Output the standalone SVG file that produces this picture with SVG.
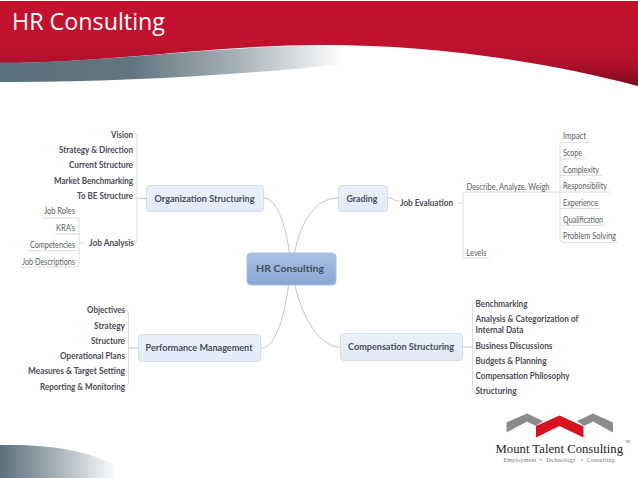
<svg xmlns="http://www.w3.org/2000/svg" width="638" height="478" viewBox="0 0 638 478">
<style>
.t{font-family:Lato,"Liberation Sans",sans-serif;font-size:9.600px;font-weight:700;fill:#4a4d55}
.l{font-family:Lato,"Liberation Sans",sans-serif;font-size:9.600px;fill:#5a5d62}
.n{font-family:Lato,"Liberation Sans",sans-serif;font-size:10.200px;font-weight:700;fill:#474d5c;text-anchor:middle}
.e{text-anchor:end}
.box{fill:url(#nodeFill);stroke:#d5dce6;stroke-width:1}
.c{fill:none;stroke:#c4c4c0;stroke-width:1}
.b{fill:none;stroke:#dcdcdc;stroke-width:1}
</style>
<defs>
<linearGradient id="red" x1="0" y1="0" x2="0" y2="1"><stop offset="0" stop-color="#c5122f"/><stop offset=".5" stop-color="#c0122f"/><stop offset=".75" stop-color="#ae112b"/><stop offset="1" stop-color="#7d0a1c"/></linearGradient>
<linearGradient id="gray" x1="0" y1="0" x2="1" y2="0"><stop offset="0" stop-color="#5c717e"/><stop offset=".38" stop-color="#62757f"/><stop offset=".7" stop-color="#a9b4ba"/><stop offset="1" stop-color="#ffffff"/></linearGradient>
<linearGradient id="gray2" x1="0" y1="0" x2="1" y2="0"><stop offset="0" stop-color="#5c717e"/><stop offset=".5" stop-color="#a9b4ba"/><stop offset="1" stop-color="#ffffff"/></linearGradient>
<linearGradient id="nodeFill" x1="0" y1="0" x2="0" y2="1"><stop offset="0" stop-color="#eaf1fb"/><stop offset="1" stop-color="#e2eaf7"/></linearGradient>
<linearGradient id="root" x1="0" y1="0" x2="0" y2="1"><stop offset="0" stop-color="#a9c1e2"/><stop offset="1" stop-color="#86a6d3"/></linearGradient>
</defs>
<rect width="638" height="478" fill="#fff"/>
<g id="banner">
<path d="M0 1H638V86C540 60 430 45 325 45C210 45 110 63 0 63Z" fill="url(#red)"/>
<path d="M0 62.500C110 63 210 45 345 45.500V64C230 76 110 82.500 0 82Z" fill="url(#gray)"/>
<text x="12" y="30" font-family="'Open Sans','Noto Sans',sans-serif" font-size="23.500" fill="#fff" textLength="153" lengthAdjust="spacingAndGlyphs">HR Consulting</text>
</g>
<path id="corner" d="M0 445C50 444 85 450 118 466V478H0Z" fill="url(#gray2)"/>
<g id="connectors">
<path class="c" d="M264 198C276 198 285 222 289.500 253"/>
<path class="c" d="M338 198C316 198 301 220 294.500 253"/>
<path class="c" d="M261 348C274 348 284 322 288.500 285"/>
<path class="c" d="M340 347C320 347 302 318 295 285"/>
<path class="c" d="M146 198.500H137"/>
<path class="b" d="M133 133Q137 133 137 136V240Q137 243 134 243"/>
<path class="b" d="M79 218V264Q79 267 76 267H20M42 218H79M55 234H79M28 250.700H79M79 243H84"/>
<path class="c" d="M388 198C394 198 394 201 399 201"/>
<path class="b" d="M458 203H463M559 192H466Q463 192 463 195V255Q463 258 466 258H489"/>
<path class="b" d="M560 142.700V239Q560 242.300 563 242.300H618M560 142.700H590M560 159H585M560 175.300H602M560 192H610M560 208.700H600M560 225.300H605"/>
<path class="c" d="M138 348H129"/>
<path class="b" d="M125 310Q128.500 310 128.500 313V383Q128.500 386.500 125 386.500"/>
<path class="c" d="M463 347H472"/>
<path class="b" d="M475 302Q472.500 302 472.500 305V388Q472.500 392 475 392"/>
</g>
<g id="hr-consulting"><rect x="247" y="253" width="89" height="32" rx="4" fill="url(#root)" stroke="#a9c0de"/><text class="n" x="290" y="272" textLength="68" lengthAdjust="spacingAndGlyphs">HR Consulting</text></g>
<g id="organization-structuring"><rect class="box" x="146.500" y="185.500" width="117" height="26" rx="3"/><text class="n" x="204.500" y="201.800" textLength="100" lengthAdjust="spacingAndGlyphs">Organization Structuring</text></g>
<g id="grading"><rect class="box" x="338.500" y="185.500" width="49" height="26" rx="3"/><text class="n" x="362" y="201.800" textLength="31" lengthAdjust="spacingAndGlyphs">Grading</text></g>
<g id="performance-management"><rect class="box" x="138.500" y="334.500" width="122" height="27" rx="3"/><text class="n" x="199" y="351.300" textLength="107" lengthAdjust="spacingAndGlyphs">Performance Management</text></g>
<g id="compensation-structuring"><rect class="box" x="340.500" y="333.500" width="122" height="27" rx="3"/><text class="n" x="401" y="350.300" textLength="106" lengthAdjust="spacingAndGlyphs">Compensation Structuring</text></g>
<g id="org-topics">
<text class="t e" x="133" y="137.500" textLength="22" lengthAdjust="spacingAndGlyphs">Vision</text>
<text class="t e" x="133" y="153" textLength="74" lengthAdjust="spacingAndGlyphs">Strategy &amp; Direction</text>
<text class="t e" x="133" y="168" textLength="64" lengthAdjust="spacingAndGlyphs">Current Structure</text>
<text class="t e" x="133" y="183.500" textLength="79" lengthAdjust="spacingAndGlyphs">Market Benchmarking</text>
<text class="t e" x="133" y="198.500" textLength="56" lengthAdjust="spacingAndGlyphs">To BE Structure</text>
<text class="t e" x="134" y="246" textLength="45" lengthAdjust="spacingAndGlyphs">Job Analysis</text>
<text class="l e" x="75" y="214" textLength="31" lengthAdjust="spacingAndGlyphs">Job Roles</text>
<text class="l e" x="75" y="231" textLength="19" lengthAdjust="spacingAndGlyphs">KRA's</text>
<text class="l e" x="75" y="247.500" textLength="45" lengthAdjust="spacingAndGlyphs">Competencies</text>
<text class="l e" x="75" y="264.500" textLength="53" lengthAdjust="spacingAndGlyphs">Job Descriptions</text>
</g>
<g id="grading-topics">
<text class="t" x="400" y="206" textLength="53" lengthAdjust="spacingAndGlyphs">Job Evaluation</text>
<text class="l" x="466.500" y="189.500" style="font-size:8.800px" textLength="83" lengthAdjust="spacingAndGlyphs">Describe, Analyze, Weigh</text>
<text class="l" x="466.500" y="256" textLength="20" lengthAdjust="spacingAndGlyphs">Levels</text>
<text class="l" x="563" y="139" textLength="23" lengthAdjust="spacingAndGlyphs">Impact</text>
<text class="l" x="563" y="156" textLength="19" lengthAdjust="spacingAndGlyphs">Scope</text>
<text class="l" x="563" y="172.500" textLength="36" lengthAdjust="spacingAndGlyphs">Complexity</text>
<text class="l" x="563" y="189" textLength="44" lengthAdjust="spacingAndGlyphs">Responsibility</text>
<text class="l" x="563" y="206" textLength="35" lengthAdjust="spacingAndGlyphs">Experience</text>
<text class="l" x="563" y="222.500" textLength="40" lengthAdjust="spacingAndGlyphs">Qualification</text>
<text class="l" x="563" y="239" textLength="53" lengthAdjust="spacingAndGlyphs">Problem Solving</text>
</g>
<g id="performance-topics">
<text class="t e" x="125" y="313" textLength="38" lengthAdjust="spacingAndGlyphs">Objectives</text>
<text class="t e" x="125" y="328.500" textLength="31" lengthAdjust="spacingAndGlyphs">Strategy</text>
<text class="t e" x="125" y="343.500" textLength="34" lengthAdjust="spacingAndGlyphs">Structure</text>
<text class="t e" x="125" y="359" textLength="65" lengthAdjust="spacingAndGlyphs">Operational Plans</text>
<text class="t e" x="125" y="374" textLength="97" lengthAdjust="spacingAndGlyphs">Measures &amp; Target Setting</text>
<text class="t e" x="125" y="389.500" textLength="85" lengthAdjust="spacingAndGlyphs">Reporting &amp; Monitoring</text>
</g>
<g id="compensation-topics">
<text class="t" x="475.500" y="306.500" textLength="52" lengthAdjust="spacingAndGlyphs">Benchmarking</text>
<text class="t" x="475.500" y="322" textLength="103" lengthAdjust="spacingAndGlyphs">Analysis &amp; Categorization of</text>
<text class="t" x="475.500" y="333" textLength="48" lengthAdjust="spacingAndGlyphs">Internal Data</text>
<text class="t" x="475.500" y="348.500" textLength="77" lengthAdjust="spacingAndGlyphs">Business Discussions</text>
<text class="t" x="475.500" y="363.500" textLength="71" lengthAdjust="spacingAndGlyphs">Budgets &amp; Planning</text>
<text class="t" x="475.500" y="379" textLength="94" lengthAdjust="spacingAndGlyphs">Compensation Philosophy</text>
<text class="t" x="475.500" y="394" textLength="41" lengthAdjust="spacingAndGlyphs">Structuring</text>
</g>
<g id="logo">
<path d="M506.500 422.500L527 413.500L543 421L536 426L527 421.500L506.500 432.500Z" fill="#8c8c8c"/>
<path d="M577 421L593 413.500L613 422.500V432.500L593 421.500L584 426Z" fill="#8c8c8c"/>
<path d="M536 426L559.500 415.500L583.500 426.500V437.500L559.500 426L536 437.500Z" fill="#d9121f"/>
<text x="495.500" y="452.500" font-family="'Liberation Serif',serif" font-size="13" textLength="127.500" lengthAdjust="spacingAndGlyphs" fill="#222">Mount Talent Consulting</text>
<text x="625.500" y="443" font-family="'Liberation Sans',sans-serif" font-size="3" fill="#555">TM</text>
<text x="503.500" y="461.500" font-family="'Liberation Serif',serif" font-size="6" textLength="111" fill="#777" xml:space="preserve">Employment  •  Technology   •  Consulting</text>
</g>
</svg>
